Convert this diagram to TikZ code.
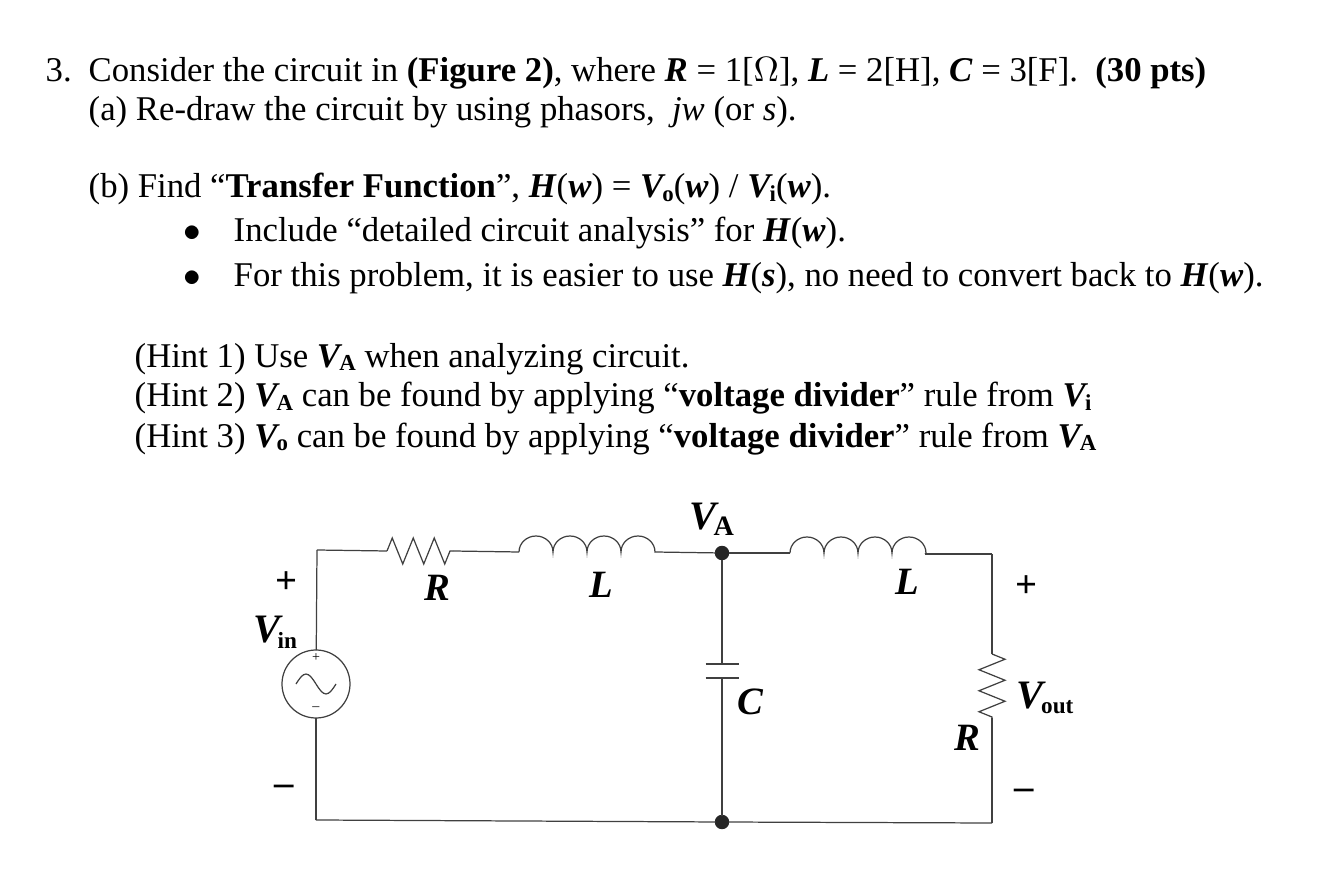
\documentclass[tikz,border=0pt]{standalone}
\usepackage{fontspec}
\setmainfont{Liberation Serif}
\usepackage{tkz-graph}
\usetikzlibrary{decorations.pathmorphing}
\tikzstyle{textLine}=[anchor = base west, inner sep = 0pt, font = \fontsize{9.88pt}{11pt}\selectfont]
\tikzstyle{circuitLabel}=[inner sep = 0pt, font = \fontsize{11pt}{13pt}\selectfont\bfseries\itshape]
\tikzstyle{signLabel}=[inner sep = 0pt, font = \fontsize{11pt}{13pt}\selectfont\bfseries]
\newcommand{\bi}[1]{\textbf{\textit{#1}}}
\newcommand{\vsub}[2]{\bi{#1}\kern-.09em{\fontsize{6.5pt}{7pt}\selectfont\bfseries\raisebox{-.3ex}{#2}}}

\begin{document}
\begin{tikzpicture}
\useasboundingbox (0,0) rectangle (13.44,8.68);
\tikzstyle{VertexStyle} = []
\tikzstyle{EdgeStyle} = [draw, line width = 0.35pt, color = black!75]
\tikzstyle{wirePoint}=[shape = coordinate]
\tikzstyle{junctionDot}=[shape = circle, minimum size = 0.13cm, inner sep = 0pt, draw, fill, color = black!85]
\tikzstyle{sourceCircle}=[shape = circle, minimum size = 0.68cm, inner sep = 0pt, draw, line width = 0.35pt, color = black!75]
\tikzstyle{zigzagLine}=[decorate, decoration = {zigzag, segment length = 0.21cm, amplitude = 0.13cm}]
\tikzstyle{coilLine}=[to path = {(\tikztostart)
  arc[start angle = 180, end angle = 0, x radius = 0.17, y radius = 0.16]
  arc[start angle = 180, end angle = 0, x radius = 0.17, y radius = 0.16]
  arc[start angle = 180, end angle = 0, x radius = 0.17, y radius = 0.16]
  arc[start angle = 180, end angle = 0, x radius = 0.17, y radius = 0.16] -- (\tikztotarget)}]
% problem text
\node[textLine] (num) at (0.45,7.87) {3.};
\node[textLine] (line1) at (0.88,7.87) {Consider the circuit in \textbf{(Figure 2)}, where \bi{R} = 1[$\Omega$], \bi{L} = 2[H], \bi{C} = 3[F]. \ \textbf{(30 pts)}};
\node[textLine] (line2) at (0.88,7.47) {(a) Re-draw the circuit by using phasors, \ \textit{jw} (or \textit{s}).};
\node[textLine] (line3) at (0.88,6.70) {(b) Find ``\textbf{Transfer Function}'', \bi{H}(\bi{w}) = \vsub{V}{o}(\bi{w}) / \vsub{V}{i}(\bi{w}).};
\node[textLine] (dot1) at (1.83,6.26) {$\bullet$};
\node[textLine] (line4) at (2.33,6.26) {Include ``detailed circuit analysis'' for \bi{H}(\bi{w}).};
\node[textLine] (dot2) at (1.83,5.81) {$\bullet$};
\node[textLine] (line5) at (2.33,5.81) {For this problem, it is easier to use \bi{H}(\bi{s}), no need to convert back to \bi{H}(\bi{w}).};
\node[textLine] (hint1) at (1.34,5.01) {(Hint 1) Use \vsub{V}{A} when analyzing circuit.};
\node[textLine] (hint2) at (1.34,4.61) {(Hint 2) \vsub{V}{A} can be found by applying ``\textbf{voltage divider}'' rule from \vsub{V}{i}};
\node[textLine] (hint3) at (1.34,4.21) {(Hint 3) \vsub{V}{o} can be found by applying ``\textbf{voltage divider}'' rule from \vsub{V}{A}};
% circuit
\Vertex[style = wirePoint, NoLabel, x = 3.17, y = 3.18]{v0}
\Vertex[style = wirePoint, NoLabel, x = 3.87, y = 3.17]{v1}
\Vertex[style = wirePoint, NoLabel, x = 4.53, y = 3.17]{v2}
\Vertex[style = wirePoint, NoLabel, x = 5.19, y = 3.16]{v3}
\Vertex[style = wirePoint, NoLabel, x = 6.55, y = 3.16]{v4}
\Vertex[style = junctionDot, NoLabel, x = 7.22, y = 3.15]{v5}
\Vertex[style = wirePoint, NoLabel, x = 7.90, y = 3.15]{v6}
\Vertex[style = wirePoint, NoLabel, x = 9.25, y = 3.14]{v7}
\Vertex[style = wirePoint, NoLabel, x = 9.92, y = 3.14]{v8}
\Vertex[style = wirePoint, NoLabel, x = 9.92, y = 2.14]{v9}
\Vertex[style = wirePoint, NoLabel, x = 9.92, y = 1.50]{v10}
\Vertex[style = wirePoint, NoLabel, x = 9.92, y = 0.45]{v11}
\Vertex[style = junctionDot, NoLabel, x = 7.22, y = 0.46]{v12}
\Vertex[style = wirePoint, NoLabel, x = 3.16, y = 0.48]{v13}
\Vertex[style = sourceCircle, NoLabel, x = 3.16, y = 1.84]{v14}
\Vertex[style = wirePoint, NoLabel, x = 7.22, y = 2.04]{v15}
\Vertex[style = wirePoint, NoLabel, x = 7.22, y = 1.90]{v16}
\Vertex[style = wirePoint, NoLabel, x = 7.055, y = 2.04]{v17}
\Vertex[style = wirePoint, NoLabel, x = 7.385, y = 2.04]{v18}
\Vertex[style = wirePoint, NoLabel, x = 7.055, y = 1.90]{v19}
\Vertex[style = wirePoint, NoLabel, x = 7.385, y = 1.90]{v20}
\Vertex[style = wirePoint, NoLabel, x = 2.96, y = 1.84]{v21}
\Edge(v14)(v0)
\Edge(v0)(v1)
\Edge[style = {zigzagLine}](v1)(v2)
\Edge(v2)(v3)
\Edge[style = {coilLine}](v3)(v4)
\Edge(v4)(v5)
\Edge(v5)(v6)
\Edge[style = {coilLine}](v6)(v7)
\Edge(v7)(v8)
\Edge(v8)(v9)
\Edge[style = {zigzagLine}](v9)(v10)
\Edge(v10)(v11)
\Edge(v11)(v12)
\Edge(v12)(v13)
\Edge(v13)(v14)
\Edge(v5)(v15)
\Edge(v16)(v12)
\Edge(v17)(v18)
\Edge(v19)(v20)
\draw[EdgeStyle] (v21) sin ++(0.10,0.10) cos ++(0.10,-0.10) sin ++(0.10,-0.10) cos ++(0.10,0.10);
\node[inner sep = 0pt, font = \fontsize{4pt}{4pt}\selectfont] (srcPlus) at (3.16,2.10) {+};
\node[inner sep = 0pt, font = \fontsize{4pt}{4pt}\selectfont] (srcMinus) at (3.16,1.59) {--};
% labels
\node[signLabel] (plusIn) at (2.87,2.85) {+};
\node[signLabel] (minusIn) at (2.84,0.78) {--};
\node[signLabel] (plusOut) at (10.27,2.81) {+};
\node[signLabel] (minusOut) at (10.24,0.74) {--};
\node[circuitLabel] (labelVin) at (2.75,2.36) {\fontsize{11.5pt}{13pt}\selectfont\bi{V}\kern-.06em\raisebox{-.3ex}{\fontsize{6.6pt}{8pt}\selectfont\bfseries\upshape in}};
\node[circuitLabel] (labelVA) at (7.12,3.49) {\fontsize{11.5pt}{13pt}\selectfont\bi{V}\kern-.08em\raisebox{-.3ex}{\fontsize{8pt}{8pt}\selectfont\bfseries\upshape A}};
\node[circuitLabel] (labelVout) at (10.45,1.70) {\fontsize{11.5pt}{13pt}\selectfont\bi{V}\kern-.06em\raisebox{-.3ex}{\fontsize{6.6pt}{8pt}\selectfont\bfseries\upshape out}};
\node[circuitLabel] (labelR) at (4.37,2.80) {R};
\node[circuitLabel] (labelL) at (6.01,2.83) {L};
\node[circuitLabel] (labelLtwo) at (9.07,2.86) {L};
\node[circuitLabel] (labelC) at (7.50,1.66) {C};
\node[circuitLabel] (labelRtwo) at (9.67,1.30) {R};
\end{tikzpicture}
\end{document}
